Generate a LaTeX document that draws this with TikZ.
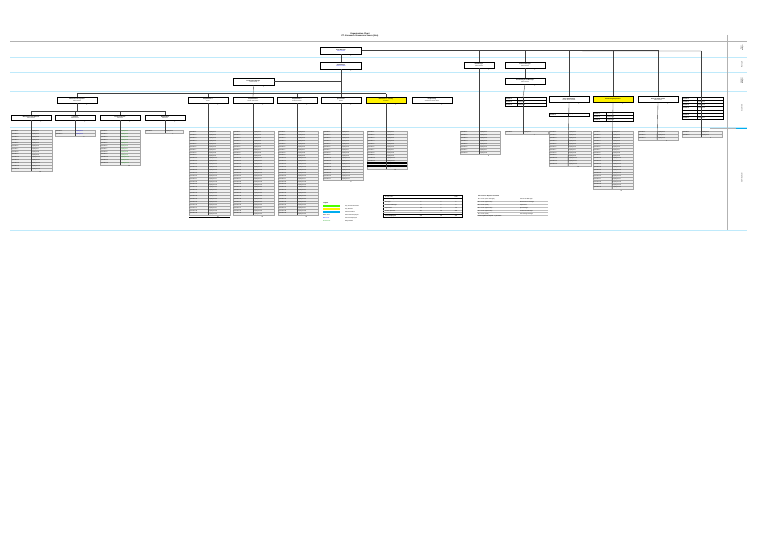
\documentclass[tikz,border=0pt]{standalone}
\usepackage{fontspec}
\setmainfont{Liberation Sans}
\usetikzlibrary{calc}
\newcommand\tf{\fontsize{1.4}{1.7}\selectfont}
\newcommand\tfb{\fontsize{2.1}{2.5}\selectfont\bfseries}
\tikzset{
  mgr/.style={draw=black, line width=0.45pt, fill=white, minimum width=40pt, minimum height=6pt, align=center, inner sep=0pt, font=\tf},
  ymgr/.style={mgr, fill=yellow},
  cell/.style={draw=gray!70, line width=0.2pt, fill=gray!12},
  wcell/.style={draw=black, line width=0.3pt, fill=white},
  link/.style={draw=black!75, line width=0.35pt},
  band/.style={draw=cyan!25, line width=0.7pt},
  cnt/.style={font=\tf},
}
% gray table: x1, xm, x2, ytop, rows, right-text colour
\newcommand\gtab[6]{%
  \foreach \i in {1,...,#5}{%
    \pgfmathsetmacro\ya{#4+(\i-1)*2.9}%
    \pgfmathsetmacro\yb{#4+\i*2.9}%
    \draw[cell] (#1,\ya) rectangle (#2,\yb);
    \draw[cell] (#2,\ya) rectangle (#3,\yb);
    \node[anchor=west] at ({#1+0.5},{\ya+1.45}) {Operator \i};
    \node[anchor=west,text=#6] at ({#2+0.5},{\ya+1.45}) {Employee \i};
  }%
  \node[cnt] at ({#2+(#3-#2)*0.45},{#4+#5*2.9+1.6}) {#5};
}
% white table: x1, xm, x2, ytop, rows
\newcommand\wtab[5]{%
  \foreach \i in {1,...,#5}{%
    \pgfmathsetmacro\ya{#4+(\i-1)*3.2}%
    \pgfmathsetmacro\yb{#4+\i*3.2}%
    \draw[wcell] (#1,\ya) rectangle (#2,\yb);
    \draw[wcell] (#2,\ya) rectangle (#3,\yb);
    \node[anchor=west,font=\tf\bfseries] at ({#1+0.5},{\ya+1.6}) {Section \i};
    \node[anchor=west] at ({#2+0.5},{\ya+1.6}) {Employee \i};
  }%
}
\begin{document}
\begin{tikzpicture}[x=1pt,y=-1pt, every node/.style={font=\tf, inner sep=0pt}]
\useasboundingbox[fill=white] (0,0) rectangle (768,543);

% frame lines
\draw[gray!60, line width=0.5pt] (10,41) -- (747,41);
\foreach \y in {57,72,91,127,230} \draw[band] (10,\y) -- (747,\y);
\draw[gray!60, line width=0.5pt] (727,35) -- (727,230);
\draw[gray!60, line width=0.4pt] (710,128) -- (747,128);
\draw[cyan, line width=0.7pt] (736,128.4) -- (747,128.4);

% right column labels
\node[rotate=90, align=center] (lv1) at (742,48) {Plant\\Manager};
\node[rotate=90, align=center] (lv2) at (742,64.5) {Manager};
\node[rotate=90, align=center] (lv3) at (742,81) {Assistant\\Manager};
\node[rotate=90, align=center] (lv4) at (742,108) {Supervisor};
\node[rotate=90, align=center] (lv5) at (742,178) {Staff / Operator};

% title
\node[font=\tfb, align=center] (title) at (360,35) {Organisation Chart\\PT. Xxxxxxxx Xxxxxxxxx Xxxxx (Xxx)};

% level 1 & 2
\node[mgr, minimum width=41pt, minimum height=7pt] (pm) at (341,50.5) {\textbf{Plant Manager}\\\textcolor{blue}{Xxxxx Xxxxx}};
\node[mgr, minimum width=41pt, minimum height=7pt] (qa) at (341,65.5) {\textbf{QA Manager}\\\textcolor{blue}{Xxxxx Xxxxxxx}};
\node[mgr, minimum width=30pt] (hr) at (479,65) {\textbf{HR Manager}\\Xxxxx Xxxxx};
\node[mgr] (fin) at (525,65) {\textbf{Finance Manager}\\Xxxxx Xxxxx};
\node[mgr, minimum width=41pt, minimum height=7pt] (prod) at (253.5,81.5) {\textbf{Production Manager}\\Xxxxx Xxxxx};
\node[mgr] (acc) at (525,81) {\textbf{Accounting \& Tax Manager}\\Xxxxx Xxxxx};

% level 3 left
\node[mgr] (wh) at (77,100) {\textbf{Warehouse \& Logistics}\\Xxxxx Xxxxx};
\node[mgr] (b1) at (208,100) {\textbf{Department A}\\Xxxx};
\node[mgr] (b2) at (253,100) {\textbf{Department B}\\Xxxxx Xxxx Xxxx};
\node[mgr] (b3) at (297,100) {\textbf{Department C}\\Xxxxx Xxxxxxx};
\node[mgr] (b4) at (341,100) {\textbf{QC Section}\\Xxxxx};
\node[ymgr] (b5) at (386,100) {\textbf{Maintenance \& Utility}\\Xxxxxxx};
\node[mgr] (b6) at (432,100) {\textbf{Engineering}\\Xxxxxxxxx Xxxxx Xxxx};

% level 4 left
\node[mgr, minimum height=5pt] (c1) at (31,117.5) {\textbf{Warehouse Raw Material}\\Xxxxx Xxxxx};
\node[mgr, minimum height=5pt] (c2) at (75,117.5) {\textbf{Logistics}\\Xxxxx Xxxxx};
\node[mgr, minimum height=5pt] (c3) at (120,117.5) {\textbf{Finished Goods}\\Xxxxxxxx};
\node[mgr, minimum height=5pt] (c4) at (165,117.5) {\textbf{Distribution}\\Xxxxxxxx};

% level 3 right
\node[mgr] (r1) at (569,99.5) {\textbf{Sales \& Marketing}\\Xxxxx Xxxxx Xxxxxx};
\node[ymgr] (r2) at (613,99.5) {\textbf{Purchasing Supervisor}\\};
\node[mgr] (r3) at (658,99.5) {\textbf{General Affair Admin}\\Xxxxx Xxxxx};
\coordinate (r0) at (523,97);
\coordinate (r4) at (701,97);
\wtab{505}{517}{546}{97}{3}
\wtab{682}{697}{723}{97}{7}
\wtab{549}{568}{589}{113}{1}
\wtab{593}{606}{633}{112}{3}

% staff tables
\gtab{11}{31}{52}{130}{14}{black}
\gtab{55}{75}{95}{130}{2}{blue}
\gtab{100}{120}{140}{130}{12}{green!60!black}
\gtab{145}{165}{183}{130}{1}{black}
\gtab{189}{208}{230}{131}{29}{black}
\gtab{233}{253}{274}{131}{29}{black}
\gtab{278}{297}{318}{131}{29}{black}
\gtab{323}{341}{363}{131}{17}{black}
\gtab{367}{386}{407}{131}{13}{black}
\fill[black] (367,162) rectangle (407,164);
\fill[black] (367,165) rectangle (407,167);
\gtab{460}{479}{500}{131}{8}{black}
\gtab{505}{523}{548}{131}{1}{black}
\gtab{549}{568}{591}{131}{12}{black}
\gtab{593}{612}{633}{131}{20}{black}
\gtab{638}{657}{678}{131}{3}{black}
\gtab{682}{701}{722}{131}{2}{black}
\draw[black, line width=0.8pt] (189,217.6) -- (230,217.6);

% bottom coordinates of tables for connectors
\coordinate (t1) at (31,170.6);
\coordinate (t2) at (75,135.8);
\coordinate (t3) at (120,164.8);
\coordinate (t4) at (165,132.9);
\coordinate (t5) at (208,215.1);
\coordinate (t6) at (253,215.1);
\coordinate (t7) at (297,215.1);
\coordinate (t8) at (341,180.3);
\coordinate (t9) at (386,168.7);
\coordinate (t10) at (479,154.2);
\coordinate (t11) at (523,133.9);
\coordinate (t12) at (568,165.8);
\coordinate (t13) at (612,189);
\coordinate (t14) at (657,139.7);
\coordinate (t15) at (701,136.8);

% connectors top
\coordinate (topend) at (701,51);
\draw[link] (pm.east) -- (topend);
\draw[link] (pm.east) -| (hr.north);
\draw[link] (pm.east) -| (fin.north);
\draw[link] (pm.east) -| (r1.north);
\draw[link] (pm.east) -| (r2.north);
\draw[link] (pm.east) -| (r3.north);
\draw[link] (topend) -- (r4);
\draw[link] (pm.south) -- (qa.north);
\draw[link] (qa.south) -- (b4.north);
\draw[link] (prod.east) -- (prod.east -| qa.south);
\draw[link] (fin.south) -- (acc.north);
\draw[link] (acc.south) -- (r0);
\draw[link] (hr.south) -- (t10);
\coordinate (h93) at (386,93.5);
\draw[link] (wh.north) |- (h93);
\draw[link] (prod.south) -- (b2.north);
\draw[link] (b1.north) -- (b1.north |- h93);
\draw[link] (b3.north) -- (b3.north |- h93);
\draw[link] (b5.north) -- (h93);
% level 4
\coordinate (h111) at (165,111);
\draw[link] (wh.south) -- (wh.south |- h111);
\draw[link] (c1.north) |- (h111);
\draw[link] (c2.north) -- (c2.north |- h111);
\draw[link] (c3.north) -- (c3.north |- h111);
\draw[link] (c4.north) -- (h111);
% to tables
\foreach \b/\t in {c1/t1,c2/t2,c3/t3,c4/t4,b1/t5,b2/t6,b3/t7,b4/t8,b5/t9,r1/t12,r2/t13,r3/t14}
  \draw[link] (\b.south) -- (\t);
\draw[link] (r0) -- (t11);
\draw[link] (r4) -- (t15);

% counts under boxes
\foreach \b in {pm,qa,hr,fin,prod,acc,wh,b1,b2,b3,b4,b5,b6,c1,c2,c3,c4,r1,r2,r3}
  \node[cnt] at ($(\b.south)+(10,1.5)$) {1};

% legend
\node[anchor=west, font=\tf\bfseries] (lgt) at (323,203) {Legend};
\fill[green!70!yellow] (323,204.5) rectangle (340,207.2);
\fill[yellow] (323,207.5) rectangle (340,210.2);
\fill[cyan] (323,210.5) rectangle (340,213.2);
\node[anchor=west] at (345,205.9) {Key \& Critical Position};
\node[anchor=west] at (345,208.9) {Key Position};
\node[anchor=west] at (345,211.9) {Critical Position};
\node[anchor=west] at (323,214.9) {Black Font};
\node[anchor=west, text=blue] at (323,217.9) {Blue Font};
\node[anchor=west, text=green!60!black] at (323,220.9) {Green Font};
\node[anchor=west] at (345,214.9) {Permanent Employee};
\node[anchor=west] at (345,217.9) {Contract Employee};
\node[anchor=west] at (345,220.9) {Daily Worker};

% summary table
\draw[black, line width=0.6pt] (383,195) rectangle (462,217.4);
\node[anchor=west] at (385,196.5) {Grade Level};
\node at (421,196.5) {Permanent};
\node at (441,196.5) {Non Permanent};
\node at (456,196.5) {Total};
\draw[black, line width=0.4pt] (383,198) -- (462,198);
\foreach \n/\a/\bb/\c [count=\k] in {Senior Manager/1/0/1, Manager/5/0/5, Assistant Manager/2/0/2, Supervisor/16/0/16, Staff \& Operator/211/48/259}{
  \pgfmathsetmacro\yy{198+(\k-1)*2.9+1.45}
  \node[anchor=west] at (385,\yy) {\n};
  \node at (421,\yy) {\a};
  \node at (441,\yy) {\bb};
  \node at (456,\yy) {\c};
  \draw[gray!60, line width=0.2pt] (383,{\yy+1.45}) -- (462,{\yy+1.45});
}
\draw[black, line width=0.4pt] (383,214.5) -- (462,214.5);
\node[anchor=west, font=\tf\bfseries] at (385,215.9) {Total Employees};
\node at (421,215.9) {235};
\node at (441,215.9) {48};
\node at (456,215.9) {283};

% replacement list
\node[anchor=west, font=\tf\bfseries] at (478,196.5) {Succession / Replacement Plan};
\foreach \l/\r [count=\k] in {Mr. Xxxxx (Asst. Manager)/Senior HR Manager, Mr. Xxxxx (Supervisor)/Maintenance Manager, Mr. Xxxxx (Staff)/Supervisor, Mr. Xxxxx (Supervisor)/QC Manager, Mr. Xxxxx (Supervisor)/Production Manager, Mr. Xxxxx (Staff)/Purchasing Manager}{
  \pgfmathsetmacro\yy{198+(\k-1)*2.9+1.45}
  \node[anchor=west] at (478,\yy) {\l};
  \node[anchor=west] at (520,\yy) {\r};
  \draw[gray!50, line width=0.2pt] (477,{\yy+1.45}) -- (548,{\yy+1.45});
}
\node[anchor=west, font=\tf\bfseries] at (478,216.3) {Total replacement plan : 6 persons};
\end{tikzpicture}
\end{document}
